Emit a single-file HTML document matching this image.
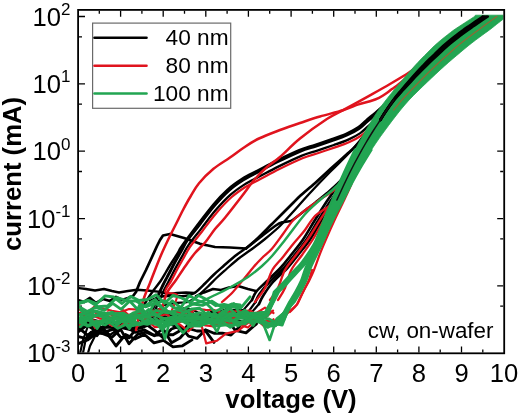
<!DOCTYPE html>
<html><head><meta charset="utf-8"><style>
html,body{margin:0;padding:0;background:#fff;}
svg{display:block;}
text{font-family:"Liberation Sans",Arial,sans-serif;fill:#000;}
</style></head><body>
<svg width="520" height="414" viewBox="0 0 520 414">
<defs><clipPath id="pc"><rect x="79" y="11" width="424.5" height="341.5"/></clipPath></defs>
<rect width="520" height="414" fill="#fff"/>

<path d="M99.3,352.4 v-3 M99.3,10.8 v3 M120.6,352.4 v-6 M120.6,10.8 v6 M141.9,352.4 v-3 M141.9,10.8 v3 M163.2,352.4 v-6 M163.2,10.8 v6 M184.5,352.4 v-3 M184.5,10.8 v3 M205.8,352.4 v-6 M205.8,10.8 v6 M227.1,352.4 v-3 M227.1,10.8 v3 M248.4,352.4 v-6 M248.4,10.8 v6 M269.7,352.4 v-3 M269.7,10.8 v3 M291.1,352.4 v-6 M291.1,10.8 v6 M312.4,352.4 v-3 M312.4,10.8 v3 M333.7,352.4 v-6 M333.7,10.8 v6 M355.0,352.4 v-3 M355.0,10.8 v3 M376.3,352.4 v-6 M376.3,10.8 v6 M397.6,352.4 v-3 M397.6,10.8 v3 M418.9,352.4 v-6 M418.9,10.8 v6 M440.2,352.4 v-3 M440.2,10.8 v3 M461.5,352.4 v-6 M461.5,10.8 v6 M482.8,352.4 v-3 M482.8,10.8 v3 M79.0,306.2 h3 M503.2,306.2 h-3 M79.0,285.9 h6 M503.2,285.9 h-6 M79.0,238.9 h3 M503.2,238.9 h-3 M79.0,218.6 h6 M503.2,218.6 h-6 M79.0,171.5 h3 M503.2,171.5 h-3 M79.0,151.2 h6 M503.2,151.2 h-6 M79.0,104.1 h3 M503.2,104.1 h-3 M79.0,83.9 h6 M503.2,83.9 h-6 M79.0,36.8 h3 M503.2,36.8 h-3 M79.0,16.5 h6 M503.2,16.5 h-6" stroke="#000" stroke-width="1.3" fill="none"/>
<g clip-path="url(#pc)" fill="none" stroke-linejoin="round" stroke-linecap="round">
<path d="M78.0,323.7 L87.5,324.8 L97.0,326.9 L106.5,319.0 L116.0,326.0 L125.5,322.0 L135.0,315.0 L144.5,323.7 L154.0,323.8 L163.5,314.7 L173.0,313.2 L182.5,317.2 L192.0,312.4 L201.5,323.1 L211.0,312.1 L220.5,314.6 L230.0,316.6 L239.5,313.7 L249.0,314.9" stroke="#000" stroke-width="2.86"/>
<path d="M78.0,327.5 L88.5,318.5 L99.0,321.5 L109.5,326.9 L120.0,327.4 L130.5,329.7 L141.0,328.1 L151.5,323.5 L162.0,318.2 L172.5,325.1 L183.0,330.8 L193.5,318.2 L204.0,321.4 L214.5,319.9 L225.0,318.2 L235.5,330.4 L246.0,332.8 L256.5,323.8" stroke="#000" stroke-width="2.86"/>
<path d="M78.0,331.9 L86.5,325.6 L95.0,326.7 L103.5,327.6 L112.0,327.0 L120.5,337.2 L129.0,337.9 L137.5,327.2 L146.0,324.1 L154.5,330.4 L163.0,337.7 L171.5,329.0 L180.0,325.8 L188.5,336.2 L197.0,338.4 L205.5,329.7 L214.0,333.3 L222.5,333.1 L231.0,335.0 L239.5,326.7" stroke="#000" stroke-width="2.86"/>
<path d="M78.0,336.6 L86.5,338.7 L95.0,332.2 L103.5,333.8 L112.0,337.2 L120.5,329.1 L129.0,343.7 L137.5,334.4 L146.0,332.2 L154.5,335.7 L163.0,328.5 L171.5,342.7 L180.0,338.0 L188.5,328.5 L197.0,331.0 L205.5,330.9 L214.0,342.4" stroke="#000" stroke-width="2.86"/>
<path d="M78.0,327.2 L87.5,335.2 L97.0,328.3 L106.5,331.3 L116.0,328.4 L125.5,326.5 L135.0,332.3 L144.5,329.9 L154.0,335.3 L163.5,334.5 L173.0,334.7 L182.5,329.3" stroke="#000" stroke-width="2.86"/>
<path d="M78.0,328.5 L87.5,322.2 L97.0,331.4 L106.5,324.0 L116.0,317.4 L125.5,327.8 L135.0,326.5 L144.5,324.0" stroke="#000" stroke-width="2.86"/>
<path d="M78.0,343.8 L87.5,340.0 L97.0,332.8 L106.5,332.5 L116.0,346.0 L125.5,334.5 L135.0,339.0 L144.5,334.5 L154.0,342.9 L163.5,340.4 L173.0,346.9 L182.5,345.8 L192.0,339.9" stroke="#000" stroke-width="2.86"/>
<path d="M79.0,358.0 L83.0,340.0 L88.0,326.0 L94.0,330.0 L100.0,322.0 L106.0,326.0 L112.0,318.0" stroke="#000" stroke-width="2.20"/>
<path d="M82.0,358.0 L86.0,338.0 L91.0,332.0 L97.0,336.0 L103.0,328.0 L110.0,335.0 L117.0,330.0" stroke="#000" stroke-width="2.20"/>
<path d="M86.0,360.0 L90.0,346.0 L95.0,336.0 L101.0,330.0" stroke="#000" stroke-width="2.20"/>
<path d="M78.0,288.0 L86.0,289.0 L95.0,290.5 L104.0,289.0 L112.0,291.0 L119.0,292.5 L128.0,291.0 L137.0,289.8 L147.0,290.5 L158.0,291.6 L169.0,294.0 L177.0,293.0 L186.0,292.5 L194.5,293.0" stroke="#000" stroke-width="2.42"/>
<path d="M140.0,318.0 C141.0,317.5 144.0,316.3 146.0,315.0 C148.0,313.7 150.0,313.2 152.0,310.0 C154.0,306.8 156.1,300.0 157.9,295.8 C159.7,291.6 161.2,288.7 163.0,285.0 C164.8,281.3 166.9,277.6 168.9,273.8 C170.9,270.0 173.0,265.7 175.0,262.0 C177.0,258.3 178.7,255.5 180.8,251.8 C182.9,248.1 184.3,244.6 187.5,240.0 C190.7,235.4 195.6,229.7 200.0,224.0 C204.4,218.3 209.2,211.6 214.0,206.0 C218.8,200.4 224.2,194.6 229.0,190.3 C233.8,186.0 238.2,183.1 243.0,180.0 C247.8,176.9 252.3,175.0 258.0,172.0 C263.7,169.0 270.0,165.4 277.0,162.0 C284.0,158.6 293.5,154.0 300.0,151.3 C306.5,148.6 310.6,147.8 316.0,146.0 C321.4,144.2 327.4,142.2 332.6,140.4 C337.8,138.6 342.6,137.0 347.0,135.0 C351.4,133.0 355.7,130.8 359.0,128.5 C362.3,126.2 364.2,123.9 367.0,121.5 C369.8,119.1 373.2,116.4 376.0,114.0 C378.8,111.6 381.3,109.3 384.0,107.0 C386.7,104.7 390.7,101.2 392.0,100.0" stroke="#000" stroke-width="2.97"/>
<path d="M146.0,325.0 C147.2,322.8 151.8,313.7 153.0,312.0 C154.2,310.3 152.3,316.5 153.3,314.6 C154.3,312.7 157.4,304.6 159.2,300.4 C161.0,296.2 162.5,293.3 164.3,289.6 C166.1,285.9 168.2,282.2 170.2,278.4 C172.2,274.6 174.3,270.3 176.3,266.6 C178.3,262.9 180.0,260.1 182.1,256.4 C184.2,252.7 185.6,249.2 188.8,244.6 C192.0,240.0 196.9,234.3 201.3,228.6 C205.7,222.9 210.5,216.2 215.3,210.6 C220.1,205.0 225.5,199.2 230.3,194.9 C235.1,190.6 239.5,187.7 244.3,184.6 C249.1,181.5 253.6,179.6 259.3,176.6 C265.0,173.6 271.3,170.0 278.3,166.6 C285.3,163.2 294.8,158.6 301.3,155.9 C307.8,153.2 311.9,152.4 317.3,150.6 C322.7,148.8 328.7,146.8 333.9,145.0 C339.1,143.2 343.9,141.6 348.3,139.6 C352.7,137.6 357.0,135.3 360.3,133.1 C363.6,130.8 365.5,128.5 368.3,126.1 C371.1,123.7 374.5,121.0 377.3,118.6 C380.1,116.2 382.6,113.9 385.3,111.6 C388.0,109.3 392.0,105.8 393.3,104.6" stroke="#000" stroke-width="2.31"/>
<path d="M132.0,322.0 C132.8,321.0 135.5,318.0 137.0,316.0 C138.5,314.0 139.3,312.7 141.0,310.0 C142.7,307.3 145.0,303.2 147.0,300.0 C149.0,296.8 150.7,294.2 153.0,291.0 C155.3,287.8 158.4,284.2 160.6,281.0 C162.8,277.8 164.1,275.2 166.0,272.0 C167.9,268.8 170.0,265.2 172.0,262.0 C174.0,258.8 176.0,255.8 178.0,252.6 C180.0,249.4 178.1,251.0 184.0,243.0 C189.9,235.0 205.8,213.8 213.2,204.8 C220.6,195.8 223.4,193.4 228.2,189.1 C233.0,184.8 237.4,181.9 242.2,178.8 C247.0,175.8 251.5,173.8 257.2,170.8 C262.9,167.8 269.2,164.2 276.2,160.8 C283.2,157.4 292.7,152.8 299.2,150.1 C305.7,147.4 309.8,146.6 315.2,144.8 C320.6,143.0 326.6,141.0 331.8,139.2 C337.0,137.4 341.8,135.8 346.2,133.8 C350.6,131.8 354.9,129.6 358.2,127.3 C361.5,125.0 363.4,122.7 366.2,120.3 C369.0,117.9 372.4,115.2 375.2,112.8 C378.0,110.4 380.5,108.1 383.2,105.8 C385.9,103.5 389.9,100.0 391.2,98.8" stroke="#000" stroke-width="2.42"/>
<path d="M78.0,300.0 L84.0,302.0 L90.0,298.0 L96.0,303.0 L103.0,299.0 L110.0,301.0 L116.0,297.0 L122.0,300.0 L128.0,298.0 L133.0,296.0 L136.0,292.0 L140.0,282.0 L146.0,270.0 L152.0,257.0 L157.0,246.0 L160.0,240.0 L163.0,235.5 L170.0,234.0 L184.0,238.0 L200.0,243.8 L208.0,245.5 L215.0,247.0 L230.0,247.5 L246.0,248.5" stroke="#000" stroke-width="2.75"/>
<path d="M246.0,248.5 C248.0,246.8 253.7,242.0 258.0,238.0 C262.3,234.0 267.4,228.6 271.7,224.3 C276.0,220.0 280.4,215.6 284.0,212.0 C287.6,208.4 290.8,205.3 293.5,202.6 C296.2,199.9 296.4,199.3 300.0,196.0 C303.6,192.7 309.8,187.8 315.2,183.0 C320.6,178.2 327.5,171.7 332.6,167.0 C337.7,162.3 342.1,158.5 346.0,155.0 C349.9,151.5 352.7,149.5 356.0,146.0 C359.3,142.5 363.0,138.0 366.0,134.0 C369.0,130.0 372.7,124.0 374.0,122.0" stroke="#000" stroke-width="2.75"/>
<path d="M150.0,301.0 C151.7,300.3 156.7,297.8 160.0,297.0 C163.3,296.2 165.8,296.2 170.0,296.0 C174.2,295.8 180.9,296.5 185.0,296.0 C189.1,295.5 191.2,295.1 194.5,293.0 C197.8,290.9 201.8,286.6 205.0,283.5 C208.2,280.4 210.9,277.4 214.0,274.5 C217.1,271.6 220.0,269.1 223.5,266.0 C227.0,262.9 231.0,259.2 235.0,256.0 C239.0,252.8 243.1,250.3 247.6,247.0 C252.1,243.7 257.2,239.7 262.0,236.0 C266.8,232.3 273.2,227.3 276.6,225.0 C280.0,222.7 281.6,222.7 282.6,222.2" stroke="#000" stroke-width="2.53"/>
<path d="M282.6,222.2 L291.3,221.0" stroke="#000" stroke-width="2.42"/>
<path d="M291.3,221.0 C293.2,219.5 299.0,215.1 303.0,212.0 C307.0,208.9 311.2,205.8 315.2,202.6 C319.2,199.4 322.9,196.6 327.0,193.0 C331.1,189.4 335.8,185.3 340.0,181.0 C344.2,176.7 348.5,171.8 352.0,167.0 C355.5,162.2 358.3,156.8 361.0,152.0 C363.7,147.2 366.8,140.3 368.0,138.0" stroke="#000" stroke-width="2.42"/>
<path d="M160.0,306.0 C162.5,305.5 170.3,303.7 175.0,303.0 C179.7,302.3 184.2,303.2 188.0,302.0 C191.8,300.8 194.2,298.6 197.5,296.0 C200.8,293.4 204.8,289.6 208.0,286.5 C211.2,283.4 213.9,280.4 217.0,277.5 C220.1,274.6 223.0,272.1 226.5,269.0 C230.0,265.9 234.0,262.2 238.0,259.0 C242.0,255.8 246.1,253.3 250.6,250.0 C255.1,246.7 260.1,243.0 265.0,239.0 C269.9,235.0 275.5,230.3 280.0,226.0 C284.5,221.7 287.0,218.5 292.0,213.0 C297.0,207.5 303.7,199.8 310.0,193.0 C316.3,186.2 323.3,178.8 330.0,172.0 C336.7,165.2 344.7,157.7 350.0,152.0 C355.3,146.3 360.0,140.3 362.0,138.0" stroke="#000" stroke-width="2.31"/>
<path d="M150.0,313.1 L158.5,309.3 L167.0,313.9 L175.5,314.8 L184.0,308.1 L192.5,309.6 L201.0,314.3 L209.5,314.1 L218.0,312.5 L226.5,309.0 L235.0,310.1 L243.5,309.9 L252.0,300.0" stroke="#000" stroke-width="2.20"/>
<path d="M252.0,300.0 C252.7,298.7 253.7,295.0 256.0,292.0 C258.3,289.0 261.9,286.0 266.0,282.0 C270.1,278.0 276.2,272.5 280.4,268.0 C284.6,263.5 287.3,259.7 291.0,255.0 C294.7,250.3 298.7,245.8 302.7,240.0 C306.7,234.2 310.9,226.5 315.0,220.0 C319.1,213.5 323.3,206.5 327.0,201.0 C330.7,195.5 333.5,192.2 337.0,187.0 C340.5,181.8 344.8,175.3 348.0,170.0 C351.2,164.7 353.5,160.0 356.0,155.0 C358.5,150.0 361.8,142.5 363.0,140.0" stroke="#000" stroke-width="2.64"/>
<path d="M150.0,318.8 L158.5,312.8 L167.0,314.0 L175.5,316.5 L184.0,316.3 L192.5,315.5 L201.0,316.2 L209.5,317.9 L218.0,318.3 L226.5,311.9 L235.0,311.2 L243.5,318.3 L255.5,302.0" stroke="#000" stroke-width="2.20"/>
<path d="M255.5,302.0 C256.2,300.7 257.2,297.3 259.5,294.0 C261.8,290.7 265.4,286.3 269.5,282.0 C273.6,277.7 279.7,272.5 283.9,268.0 C288.1,263.5 290.8,259.7 294.5,255.0 C298.2,250.3 302.2,245.8 306.2,240.0 C310.2,234.2 314.4,226.5 318.5,220.0 C322.6,213.5 326.8,206.5 330.5,201.0 C334.2,195.5 337.2,192.2 340.5,187.0 C343.8,181.8 347.3,175.3 350.1,170.0 C352.9,164.7 355.2,160.0 357.4,155.0 C359.5,150.0 362.1,142.5 363.0,140.0" stroke="#000" stroke-width="2.64"/>
<path d="M150.0,321.3 L158.5,316.9 L167.0,317.2 L175.5,319.5 L184.0,317.4 L192.5,314.9 L201.0,316.0 L209.5,316.4 L218.0,318.5 L226.5,315.4 L235.0,319.8 L243.5,321.8 L259.0,304.0" stroke="#000" stroke-width="2.20"/>
<path d="M259.0,304.0 C259.7,302.7 260.7,299.7 263.0,296.0 C265.3,292.3 268.9,286.7 273.0,282.0 C277.1,277.3 283.2,272.5 287.4,268.0 C291.6,263.5 294.3,259.7 298.0,255.0 C301.7,250.3 305.7,245.8 309.7,240.0 C313.7,234.2 317.9,226.5 322.0,220.0 C326.1,213.5 330.3,206.5 334.0,201.0 C337.7,195.5 341.0,192.2 344.0,187.0 C347.0,181.8 349.7,175.3 352.2,170.0 C354.7,164.7 357.0,160.0 358.8,155.0 C360.6,150.0 362.3,142.5 363.0,140.0" stroke="#000" stroke-width="2.64"/>
<path d="M196.0,296.0 L204.0,292.5 L213.0,289.0 L221.0,290.0 L229.0,287.5 L238.0,286.0 L248.0,289.0 L256.0,291.0" stroke="#000" stroke-width="2.42"/>
<path d="M78.0,308.6 L86.5,313.8 L95.0,306.1 L103.5,308.8 L112.0,310.8 L120.5,312.3 L129.0,309.0 L137.5,309.7 L146.0,315.9 L154.5,315.2 L163.0,307.8 L171.5,313.9 L180.0,309.3 L188.5,312.1 L197.0,308.9 L205.5,309.9 L214.0,310.0 L222.5,313.3 L231.0,311.7 L239.5,311.0 L248.0,312.6 L256.5,313.0 L265.0,307.6 L273.5,313.0" stroke="#e0141e" stroke-width="2.20"/>
<path d="M78.0,312.7 L85.5,314.1 L93.0,310.9 L100.5,316.4 L108.0,312.3 L115.5,317.5 L123.0,310.1 L130.5,316.8 L138.0,313.9 L145.5,316.3 L153.0,310.4 L160.5,316.0 L168.0,313.5 L175.5,311.4 L183.0,313.7 L190.5,315.7 L198.0,318.0 L205.5,320.7 L213.0,319.8 L220.5,315.1 L228.0,318.3 L235.5,318.8 L243.0,311.0 L250.5,310.5 L258.0,316.9 L265.5,317.8 L273.0,310.6" stroke="#e0141e" stroke-width="2.20"/>
<path d="M78.0,314.0 L85.5,315.5 L93.0,315.8 L100.5,318.7 L108.0,316.9 L115.5,318.9 L123.0,316.2 L130.5,314.7 L138.0,313.6 L145.5,318.3 L153.0,315.1 L160.5,308.3 L168.0,315.3 L175.5,321.1 L183.0,313.4 L190.5,311.0 L198.0,318.2 L205.5,314.0 L213.0,326.3 L220.5,316.6 L228.0,315.9 L235.5,317.1 L243.0,315.5 L250.5,314.7 L258.0,316.8 L265.5,321.8 L273.0,320.7" stroke="#e0141e" stroke-width="2.20"/>
<path d="M78.0,322.0 L87.5,318.6 L97.0,321.2 L106.5,320.0 L116.0,317.0 L125.5,322.4 L135.0,324.0 L144.5,322.6 L154.0,324.0 L163.5,325.6 L173.0,320.5 L182.5,318.6 L192.0,321.2 L201.5,323.4 L211.0,320.3 L220.5,324.0 L230.0,322.6 L239.5,323.9 L249.0,318.6 L258.5,319.1 L268.0,325.0 L277.5,322.1" stroke="#e0141e" stroke-width="2.20"/>
<path d="M78.0,327.9 L86.5,313.0 L95.0,328.0 L103.5,318.8 L112.0,325.9 L120.5,326.0 L129.0,319.3 L137.5,326.3 L146.0,318.1 L154.5,327.1 L163.0,326.3 L171.5,319.8 L180.0,324.7 L188.5,331.3 L197.0,322.5 L205.5,325.4 L214.0,326.3 L222.5,320.5 L231.0,322.3 L239.5,325.0 L248.0,327.5 L256.5,319.2 L265.0,327.1 L273.5,319.2" stroke="#e0141e" stroke-width="2.20"/>
<path d="M180.0,322.0 L190.0,318.0 L200.9,322.9 L206.2,343.4 L217.0,340.7 L225.9,333.6 L238.0,330.9 L248.3,322.7 L260.5,321.7 L274.7,320.7 L282.8,317.7 L297.0,304.5 L309.0,280.0 L312.0,270.0" stroke="#e0141e" stroke-width="2.20"/>
<path d="M136.0,330.0 C136.7,327.0 138.6,317.6 140.0,312.0 C141.4,306.4 142.8,301.3 144.5,296.5 C146.2,291.7 148.2,287.6 150.0,283.0 C151.8,278.4 153.5,273.8 155.4,269.0 C157.3,264.2 159.4,258.8 161.5,254.0 C163.6,249.2 165.7,244.8 168.0,240.0 C170.3,235.2 173.0,230.0 175.5,225.0 C178.0,220.0 180.5,214.8 183.0,210.0 C185.5,205.2 187.8,200.9 190.5,196.5 C193.2,192.1 195.2,187.9 199.0,183.3 C202.8,178.7 208.3,173.1 213.5,168.8 C218.7,164.5 224.9,161.1 230.0,157.5 C235.1,153.9 239.2,150.7 244.0,147.5 C248.8,144.3 253.0,141.4 259.0,138.5 C265.0,135.6 273.2,132.6 280.0,130.0 C286.8,127.4 293.3,125.2 300.0,123.0 C306.7,120.8 312.8,118.6 320.0,116.5 C327.2,114.4 336.6,112.2 343.0,110.2 C349.4,108.2 354.1,105.9 358.6,104.4 C363.1,102.9 366.6,102.3 370.0,101.2 C373.4,100.1 376.3,99.1 379.0,97.8 C381.7,96.5 383.8,95.0 386.0,93.5 C388.2,92.0 389.8,90.6 392.0,89.0 C394.2,87.4 395.8,86.5 399.0,84.0 C402.2,81.5 407.8,77.0 411.0,74.0 C414.2,71.0 415.9,68.5 418.2,66.0 C420.5,63.5 422.6,61.3 424.9,59.0 C427.2,56.7 429.8,54.2 432.0,52.0 C434.2,49.8 436.0,48.0 438.2,46.0 C440.4,44.0 443.0,41.8 445.2,40.0 C447.4,38.2 449.3,36.7 451.5,35.0 C453.6,33.3 456.0,31.5 458.1,30.0 C460.2,28.5 462.3,27.2 464.0,26.0 C465.8,24.8 467.8,23.5 468.5,23.0" stroke="#e0141e" stroke-width="2.53"/>
<path d="M160.0,318.0 C161.1,314.0 163.7,300.3 166.4,294.0 C169.1,287.7 172.8,284.8 176.0,280.0 C179.2,275.2 182.6,269.9 185.8,265.4 C189.0,260.9 191.7,256.9 195.0,253.0 C198.3,249.1 202.2,246.0 205.5,242.0 C208.8,238.0 211.8,233.0 215.0,229.0 C218.2,225.0 220.3,223.5 224.8,218.0 C229.3,212.5 237.0,202.5 242.0,196.0 C247.0,189.5 250.8,183.8 255.0,179.0 C259.2,174.2 262.8,170.7 267.0,167.0 C271.2,163.3 274.5,161.8 280.0,157.0 C285.5,152.2 292.2,144.8 300.0,138.5 C307.8,132.2 319.7,123.7 326.9,119.0 C334.1,114.3 335.8,114.1 343.0,110.2 C350.2,106.3 362.2,99.8 370.0,95.4 C377.8,91.0 383.5,87.8 390.0,84.0 C396.5,80.2 404.5,75.5 409.0,72.5 C413.5,69.5 414.6,68.2 417.0,66.0 C419.5,63.8 421.3,61.3 423.6,59.0 C425.9,56.7 428.5,54.2 430.7,52.0 C432.9,49.8 434.6,48.0 436.8,46.0 C439.0,44.0 441.6,41.8 443.8,40.0 C446.0,38.2 447.9,36.7 450.1,35.0 C452.2,33.3 454.6,31.5 456.6,30.0 C458.7,28.5 460.9,27.2 462.7,26.0 C464.4,24.8 466.4,23.5 467.2,23.0" stroke="#e0141e" stroke-width="2.53"/>
<path d="M172.0,310.0 C172.8,307.5 178.1,298.0 177.0,295.0 C175.9,292.0 166.3,294.4 165.4,292.0 C164.5,289.6 169.3,284.6 171.3,280.8 C173.3,277.0 175.4,272.7 177.4,269.0 C179.4,265.3 181.1,262.5 183.2,258.8 C185.3,255.1 186.7,251.6 189.9,247.0 C193.1,242.4 198.0,236.7 202.4,231.0 C206.8,225.3 211.6,218.6 216.4,213.0 C221.2,207.4 226.6,201.6 231.4,197.3 C236.2,193.0 240.6,190.1 245.4,187.0 C250.2,183.9 254.7,182.0 260.4,179.0 C266.1,176.0 272.4,172.4 279.4,169.0 C286.4,165.6 295.9,161.0 302.4,158.3 C308.9,155.6 313.0,154.8 318.4,153.0 C323.8,151.2 329.8,149.2 335.0,147.4 C340.2,145.6 345.0,144.0 349.4,142.0 C353.8,140.0 358.1,137.8 361.4,135.5 C364.7,133.2 366.6,130.9 369.4,128.5 C372.2,126.1 375.6,123.4 378.4,121.0 C381.2,118.6 383.7,116.3 386.4,114.0 C389.1,111.7 393.1,108.2 394.4,107.0" stroke="#e0141e" stroke-width="2.20"/>
<path d="M222.0,302.0 C223.7,300.5 228.5,296.7 232.0,293.0 C235.5,289.3 239.4,284.3 243.0,280.0 C246.6,275.7 250.4,270.7 253.6,267.0 C256.8,263.3 259.0,261.0 262.0,258.0 C265.0,255.0 268.2,253.0 271.7,249.0 C275.2,245.0 279.4,238.8 283.0,234.0 C286.6,229.2 289.3,224.3 293.5,220.0 C297.7,215.7 303.3,211.6 308.0,208.0 C312.7,204.4 316.4,202.0 321.7,198.3 C327.0,194.6 335.3,190.4 340.0,186.0 C344.7,181.6 348.3,174.3 350.0,172.0" stroke="#e0141e" stroke-width="2.31"/>
<path d="M255.0,302.0 C256.7,299.7 262.1,293.3 265.0,288.0 C267.9,282.7 269.3,275.2 272.3,270.0 C275.3,264.8 279.4,261.5 283.0,257.0 C286.6,252.5 290.3,247.5 294.0,243.0 C297.7,238.5 301.5,234.6 305.0,230.0 C308.5,225.4 311.4,219.5 315.2,215.7 C319.0,211.9 323.9,209.9 328.0,207.0 C332.1,204.1 336.7,201.7 340.0,198.0 C343.3,194.3 346.7,187.2 348.0,185.0" stroke="#e0141e" stroke-width="2.31"/>
<path d="M270.0,300.0 C271.3,298.0 275.5,293.0 278.0,288.0 C280.5,283.0 282.0,275.5 285.0,270.0 C288.0,264.5 292.3,260.0 296.0,255.0 C299.7,250.0 303.3,245.8 307.3,240.0 C311.3,234.2 315.7,226.7 320.0,220.0 C324.3,213.3 329.3,206.3 333.0,200.0 C336.7,193.7 340.5,185.0 342.0,182.0" stroke="#e0141e" stroke-width="2.31"/>
<path d="M278.0,300.0 C279.2,298.0 282.8,293.0 285.0,288.0 C287.2,283.0 288.5,275.5 291.3,270.0 C294.1,264.5 298.5,260.0 302.0,255.0 C305.5,250.0 308.8,245.8 312.5,240.0 C316.2,234.2 319.9,226.7 324.0,220.0 C328.1,213.3 333.3,206.3 337.0,200.0 C340.7,193.7 344.5,185.0 346.0,182.0" stroke="#e0141e" stroke-width="2.31"/>
<path d="M357.0,170.0 C356.0,172.5 353.1,180.0 351.0,185.0 C348.9,190.0 346.9,194.2 344.2,200.0 C341.5,205.8 337.7,213.3 334.6,220.0 C331.5,226.7 328.2,234.2 325.7,240.0 C323.2,245.8 321.4,250.0 319.5,255.0 C317.6,260.0 315.7,265.8 314.0,270.0 C312.3,274.2 311.3,276.3 309.5,280.0 C307.7,283.7 305.1,287.9 303.0,292.0 C300.9,296.1 299.2,301.2 297.0,304.5 C294.8,307.8 291.2,310.8 290.0,312.0" stroke="#e0141e" stroke-width="2.20"/>
<path d="M79.6,302.5 L88.1,300.4 L96.6,303.7 L105.1,295.9 L113.6,297.0 L122.1,303.5 L130.6,296.4 L139.1,300.5 L147.6,299.5 L156.1,294.7 L164.6,303.3 L173.1,295.3 L181.6,298.0 L190.1,302.6 L198.6,295.4 L207.1,299.8 L215.6,305.7 L224.1,304.5 L232.6,306.3 L241.1,306.8" stroke="#22a552" stroke-width="2.86"/>
<path d="M79.0,303.6 L88.5,300.7 L98.0,306.7 L107.5,306.0 L117.0,297.7 L126.5,300.7 L136.0,301.0 L145.5,306.9 L155.0,303.4 L164.5,300.9 L174.0,307.7 L183.5,309.0 L193.0,304.0 L202.5,305.4 L212.0,301.1 L221.5,307.1 L231.0,306.7 L240.5,308.4 L250.0,296.8" stroke="#22a552" stroke-width="2.86"/>
<path d="M78.7,306.6 L87.2,311.5 L95.7,307.4 L104.2,310.3 L112.7,303.4 L121.2,309.3 L129.7,300.9 L138.2,309.9 L146.7,304.8 L155.2,299.5 L163.7,309.9 L172.2,300.8 L180.7,307.7 L189.2,295.4 L197.7,300.6 L206.2,303.3 L214.7,311.7 L223.2,307.5 L231.7,304.0 L240.2,304.8" stroke="#22a552" stroke-width="2.86"/>
<path d="M79.7,314.3 L87.2,312.9 L94.7,315.4 L102.2,314.8 L109.7,319.3 L117.2,314.4 L124.7,314.9 L132.2,321.4 L139.7,304.9 L147.2,316.0 L154.7,302.9 L162.2,307.9 L169.7,312.4 L177.2,310.0 L184.7,312.4 L192.2,308.9 L199.7,308.3 L207.2,315.0 L214.7,315.6 L222.2,315.2 L229.7,308.5 L237.2,315.6 L244.7,310.3 L252.2,315.4 L259.7,315.4 L267.2,315.9 L274.2,292.0 L274.2,292.0 C275.5,290.7 279.2,287.2 282.2,284.0 C285.2,280.8 288.9,276.7 292.2,273.0 C295.5,269.3 298.6,266.7 302.2,262.0 C305.8,257.3 310.7,250.3 313.7,245.0 C316.7,239.7 318.2,235.0 320.2,230.0 C322.3,225.0 324.1,220.0 326.1,215.0 C328.2,210.0 330.4,205.0 332.5,200.0 C334.6,195.0 336.7,190.0 338.8,185.0 C340.9,180.0 342.7,175.8 345.4,170.0 C348.1,164.2 353.4,153.3 355.0,150.0" stroke="#22a552" stroke-width="2.86"/>
<path d="M80.8,310.1 L89.3,317.0 L97.8,314.6 L106.3,314.8 L114.8,313.7 L123.3,313.2 L131.8,317.5 L140.3,316.1 L148.8,309.4 L157.3,315.2 L165.8,310.8 L174.3,313.0 L182.8,315.6 L191.3,314.7 L199.8,312.8 L208.3,315.8 L216.8,316.1 L225.3,310.3 L233.8,303.6 L242.3,318.2 L250.8,316.8 L259.3,314.8 L267.8,315.0 L275.3,292.0 L275.3,292.0 C276.6,290.7 280.3,287.2 283.3,284.0 C286.3,280.8 289.9,276.7 293.3,273.0 C296.6,269.3 299.7,266.7 303.3,262.0 C306.8,257.3 311.5,250.3 314.5,245.0 C317.5,239.7 319.0,235.0 321.1,230.0 C323.2,225.0 325.0,220.0 327.1,215.0 C329.2,210.0 331.5,205.0 333.7,200.0 C335.8,195.0 337.9,190.0 340.1,185.0 C342.3,180.0 344.1,175.8 346.9,170.0 C349.7,164.2 355.1,153.3 356.8,150.0" stroke="#22a552" stroke-width="2.86"/>
<path d="M78.4,317.9 L86.9,316.9 L95.4,311.1 L103.9,314.5 L112.4,312.2 L120.9,317.9 L129.4,328.6 L137.9,315.0 L146.4,315.0 L154.9,315.1 L163.4,318.4 L171.9,318.0 L180.4,317.0 L188.9,318.9 L197.4,318.8 L205.9,317.2 L214.4,313.4 L222.9,317.9 L231.4,316.3 L239.9,312.8 L248.4,313.4 L256.9,313.1 L265.4,312.1 L276.3,292.0 L276.3,292.0 C277.7,290.7 281.3,287.2 284.3,284.0 C287.3,280.8 291.0,276.7 294.3,273.0 C297.7,269.3 300.8,266.7 304.3,262.0 C307.8,257.3 312.4,250.3 315.4,245.0 C318.3,239.7 319.8,235.0 322.0,230.0 C324.1,225.0 326.0,220.0 328.1,215.0 C330.3,210.0 332.6,205.0 334.8,200.0 C337.1,195.0 339.2,190.0 341.5,185.0 C343.7,180.0 345.6,175.8 348.4,170.0 C351.3,164.2 356.9,153.3 358.6,150.0" stroke="#22a552" stroke-width="2.86"/>
<path d="M80.7,315.8 L88.2,311.1 L95.7,311.1 L103.2,312.8 L110.7,313.9 L118.2,314.8 L125.7,317.9 L133.2,312.9 L140.7,311.2 L148.2,317.0 L155.7,310.3 L163.2,312.0 L170.7,313.2 L178.2,317.3 L185.7,311.0 L193.2,315.2 L200.7,317.1 L208.2,312.1 L215.7,317.6 L223.2,314.5 L230.7,313.6 L238.2,317.1 L245.7,313.9 L253.2,325.4 L260.7,312.6 L268.2,312.8 L277.4,292.0 L277.4,292.0 C278.7,290.7 282.4,287.2 285.4,284.0 C288.4,280.8 292.1,276.7 295.4,273.0 C298.7,269.3 301.9,266.7 305.4,262.0 C308.9,257.3 313.3,250.3 316.2,245.0 C319.1,239.7 320.7,235.0 322.8,230.0 C325.0,225.0 326.9,220.0 329.1,215.0 C331.3,210.0 333.7,205.0 336.0,200.0 C338.3,195.0 340.5,190.0 342.8,185.0 C345.1,180.0 347.0,175.8 349.9,170.0 C352.9,164.2 358.6,153.3 360.4,150.0" stroke="#22a552" stroke-width="2.86"/>
<path d="M80.1,319.7 L88.6,314.8 L97.1,328.6 L105.6,315.4 L114.1,322.7 L122.6,321.7 L131.1,315.0 L139.6,317.7 L148.1,317.1 L156.6,322.2 L165.1,321.6 L173.6,320.1 L182.1,320.2 L190.6,314.7 L199.1,319.4 L207.6,320.5 L216.1,316.0 L224.6,318.8 L233.1,315.4 L241.6,317.2 L250.1,314.2 L258.6,319.0 L267.1,314.4 L278.5,292.0 L278.5,292.0 C279.8,290.7 283.5,287.2 286.5,284.0 C289.5,280.8 293.1,276.7 296.5,273.0 C299.8,269.3 303.0,266.7 306.5,262.0 C309.9,257.3 314.2,250.3 317.0,245.0 C319.9,239.7 321.5,235.0 323.7,230.0 C325.9,225.0 327.9,220.0 330.1,215.0 C332.4,210.0 334.8,205.0 337.2,200.0 C339.5,195.0 341.8,190.0 344.1,185.0 C346.5,180.0 348.4,175.8 351.5,170.0 C354.5,164.2 360.4,153.3 362.2,150.0" stroke="#22a552" stroke-width="2.86"/>
<path d="M78.6,323.1 L88.1,318.1 L97.6,315.4 L107.1,317.9 L116.6,318.0 L126.1,322.9 L135.6,316.4 L145.1,321.3 L154.6,323.3 L164.1,318.7 L173.6,321.5 L183.1,332.9 L192.6,322.4 L202.1,324.2 L211.6,322.4 L221.1,320.1 L230.6,319.5 L240.1,322.4 L249.6,318.7 L259.1,317.8 L268.6,318.9 L278.1,323.7 L289.6,302.0 L289.6,302.0 C290.6,300.3 293.6,295.7 295.6,292.0 C297.6,288.3 299.7,284.3 301.6,280.0 C303.4,275.7 303.9,271.8 306.6,266.0 C309.3,260.2 314.9,251.0 317.9,245.0 C320.9,239.0 322.3,235.0 324.5,230.0 C326.7,225.0 328.8,220.0 331.1,215.0 C333.4,210.0 335.9,205.0 338.3,200.0 C340.7,195.0 343.0,190.0 345.5,185.0 C347.9,180.0 349.9,175.8 353.0,170.0 C356.0,164.2 362.1,153.3 363.9,150.0" stroke="#22a552" stroke-width="2.86"/>
<path d="M79.7,321.4 L87.2,318.3 L94.7,325.7 L102.2,322.7 L109.7,318.2 L117.2,325.0 L124.7,318.8 L132.2,324.1 L139.7,322.8 L147.2,324.3 L154.7,322.0 L162.2,325.7 L169.7,318.2 L177.2,321.9 L184.7,318.6 L192.2,317.4 L199.7,317.1 L207.2,318.5 L214.7,320.5 L222.2,319.3 L229.7,321.4 L237.2,318.8 L244.7,317.3 L252.2,324.0 L259.7,318.3 L267.2,323.0 L274.7,323.5 L282.2,325.0 L290.7,302.0 L290.7,302.0 C291.7,300.3 294.7,295.7 296.7,292.0 C298.7,288.3 300.9,284.3 302.7,280.0 C304.6,275.7 305.1,271.8 307.7,266.0 C310.4,260.2 315.8,251.0 318.7,245.0 C321.7,239.0 323.2,235.0 325.4,230.0 C327.6,225.0 329.8,220.0 332.1,215.0 C334.5,210.0 337.1,205.0 339.5,200.0 C341.9,195.0 344.3,190.0 346.8,185.0 C349.3,180.0 351.3,175.8 354.5,170.0 C357.6,164.2 363.9,153.3 365.7,150.0" stroke="#22a552" stroke-width="2.86"/>
<path d="M79.8,322.4 L88.3,326.1 L96.8,323.0 L105.3,324.9 L113.8,318.9 L122.3,320.9 L130.8,318.4 L139.3,325.0 L147.8,322.5 L156.3,321.3 L164.8,326.4 L173.3,323.8 L181.8,318.0 L190.3,326.8 L198.8,322.9 L207.3,321.8 L215.8,326.0 L224.3,325.0 L232.8,324.9 L241.3,322.3 L249.8,321.5 L258.3,321.8 L266.8,325.2 L275.3,325.5 L283.8,320.2 L291.9,302.0 L291.9,302.0 C292.9,300.3 295.9,295.7 297.9,292.0 C299.9,288.3 302.1,284.3 303.9,280.0 C305.7,275.7 306.3,271.8 308.9,266.0 C311.5,260.2 316.7,251.0 319.6,245.0 C322.5,239.0 324.0,235.0 326.2,230.0 C328.5,225.0 330.7,220.0 333.1,215.0 C335.5,210.0 338.2,205.0 340.7,200.0 C343.2,195.0 345.6,190.0 348.1,185.0 C350.7,180.0 352.8,175.8 356.0,170.0 C359.2,164.2 365.6,153.3 367.5,150.0" stroke="#22a552" stroke-width="2.86"/>
<path d="M80.2,318.0 L87.7,325.8 L95.2,321.5 L102.7,321.6 L110.2,318.6 L117.7,323.9 L125.2,317.8 L132.7,323.4 L140.2,323.5 L147.7,321.7 L155.2,322.2 L162.7,330.4 L170.2,317.4 L177.7,317.6 L185.2,322.9 L192.7,325.9 L200.2,326.1 L207.7,322.4 L215.2,322.0 L222.7,311.1 L230.2,319.0 L237.7,326.0 L245.2,321.3 L252.7,321.0 L260.2,320.6 L267.7,326.1 L275.2,325.9 L282.7,318.6 L293.0,302.0 L293.0,302.0 C294.0,300.3 297.0,295.7 299.0,292.0 C301.0,288.3 303.2,284.3 305.0,280.0 C306.9,275.7 307.5,271.8 310.0,266.0 C312.6,260.2 317.6,251.0 320.4,245.0 C323.3,239.0 324.8,235.0 327.1,230.0 C329.4,225.0 331.7,220.0 334.1,215.0 C336.6,210.0 339.3,205.0 341.8,200.0 C344.4,195.0 346.9,190.0 349.5,185.0 C352.1,180.0 354.2,175.8 357.5,170.0 C360.8,164.2 367.3,153.3 369.3,150.0" stroke="#22a552" stroke-width="2.86"/>
<path d="M80.3,326.7 L87.8,319.8 L95.3,322.9 L102.8,321.4 L110.3,322.9 L117.8,328.3 L125.3,324.6 L132.8,325.7 L140.3,323.8 L147.8,319.8 L155.3,324.3 L162.8,321.5 L170.3,323.8 L177.8,320.8 L185.3,321.5 L192.8,321.2 L200.3,322.0 L207.8,320.7 L215.3,323.1 L222.8,322.1 L230.3,327.3 L237.8,323.5 L245.3,323.8 L252.8,316.7 L260.3,320.2 L267.8,327.4 L275.3,322.3 L282.8,313.9 L294.2,302.0 L294.2,302.0 C295.2,300.3 298.2,295.7 300.2,292.0 C302.2,288.3 304.4,284.3 306.2,280.0 C308.0,275.7 308.7,271.8 311.2,266.0 C313.7,260.2 318.5,251.0 321.3,245.0 C324.1,239.0 325.6,235.0 327.9,230.0 C330.3,225.0 332.6,220.0 335.1,215.0 C337.6,210.0 340.4,205.0 343.0,200.0 C345.6,195.0 348.1,190.0 350.8,185.0 C353.5,180.0 355.6,175.8 359.0,170.0 C362.4,164.2 369.1,153.3 371.1,150.0" stroke="#22a552" stroke-width="2.86"/>
<path d="M250.0,314.0 L260.5,316.7 L269.6,340.0 L276.7,318.7 L285.0,312.0" stroke="#22a552" stroke-width="2.64"/>
<path d="M155.0,318.0 L160.0,322.0 L165.0,339.0 L170.0,320.0 L176.0,316.0" stroke="#22a552" stroke-width="2.64"/>
<path d="M205.0,318.0 L211.0,322.0 L217.0,331.8 L223.0,318.0 L230.0,314.0" stroke="#22a552" stroke-width="2.64"/>
<path d="M190.0,304.0 C191.7,303.7 196.2,303.3 200.0,302.0 C203.8,300.7 208.2,298.3 213.0,296.0 C217.8,293.7 223.2,291.2 229.0,288.0 C234.8,284.8 242.5,280.7 248.0,277.0 C253.5,273.3 258.0,269.5 262.0,266.0 C266.0,262.5 268.2,260.3 272.0,256.0 C275.8,251.7 279.6,246.8 285.0,240.0 C290.4,233.2 298.5,221.7 304.3,215.0 C310.1,208.3 315.3,204.2 320.0,200.0 C324.7,195.8 328.9,193.3 332.6,190.0 C336.3,186.7 339.1,184.0 342.0,180.0 C344.9,176.0 348.7,168.3 350.0,166.0" stroke="#22a552" stroke-width="2.42"/>
<path d="M326.1,215.0 C327.2,212.5 330.4,205.0 332.5,200.0 C334.6,195.0 336.7,190.0 338.8,185.0 C340.9,180.0 343.2,174.8 345.4,170.0 C347.6,165.2 349.9,160.5 352.1,156.0 C354.3,151.5 356.5,147.2 358.7,143.0 C360.9,138.8 363.2,134.8 365.4,131.0 C367.6,127.2 369.8,123.5 372.0,120.0 C374.2,116.5 376.2,113.3 378.5,110.0 C380.8,106.7 383.6,103.2 386.0,100.0 C388.4,96.8 390.7,94.0 393.2,91.0 C395.7,88.0 398.4,84.8 400.8,82.0 C403.2,79.2 405.3,76.7 407.6,74.0 C409.9,71.3 412.4,68.5 414.6,66.0 C416.9,63.5 418.9,61.3 421.1,59.0 C423.3,56.7 425.9,54.2 428.1,52.0 C430.3,49.8 431.9,48.0 434.1,46.0 C436.3,44.0 438.8,41.8 441.0,40.0 C443.2,38.2 445.1,36.7 447.3,35.0 C449.4,33.3 451.7,31.5 453.8,30.0 C455.9,28.5 458.1,27.2 459.9,26.0 C461.7,24.8 462.9,24.0 464.5,23.0 C466.0,22.0 467.8,20.8 469.1,20.0 C470.4,19.2 471.3,18.6 472.2,18.0 C473.1,17.4 474.1,16.8 474.5,16.5 L475.4,15.2 L512,15.2 L512,16.5 L507.0,16.5 C506.6,16.8 505.6,17.4 504.8,18.0 C504.0,18.6 503.2,19.2 502.1,20.0 C501.0,20.8 499.6,22.0 498.3,23.0 C497.0,24.0 495.9,24.8 494.5,26.0 C493.0,27.2 491.4,28.5 489.4,30.0 C487.4,31.5 484.7,33.3 482.5,35.0 C480.2,36.7 478.1,38.2 475.7,40.0 C473.3,41.8 470.5,44.0 468.0,46.0 C465.5,48.0 463.4,49.8 460.8,52.0 C458.3,54.2 455.2,56.7 452.5,59.0 C449.8,61.3 447.3,63.5 444.5,66.0 C441.7,68.5 438.6,71.3 435.8,74.0 C432.9,76.7 430.3,79.2 427.3,82.0 C424.4,84.8 421.0,88.0 418.0,91.0 C415.0,94.0 412.0,96.8 409.1,100.0 C406.2,103.2 403.2,106.7 400.5,110.0 C397.8,113.3 395.4,116.5 392.7,120.0 C390.0,123.5 387.3,127.2 384.5,131.0 C381.7,134.8 378.8,138.8 376.0,143.0 C373.1,147.2 370.3,151.5 367.5,156.0 C364.7,160.5 361.8,165.2 359.0,170.0 C356.2,174.8 353.5,180.0 350.8,185.0 C348.1,190.0 345.6,195.0 343.0,200.0 C340.4,205.0 336.4,212.5 335.1,215.0 Z" fill="#22a552" stroke="#22a552" stroke-width="0.8" clip-path="url(#pc)"/>
<path d="M482.9,16.5 C482.6,16.8 481.6,17.4 480.7,18.0 C479.8,18.6 478.9,19.2 477.7,20.0 C476.5,20.8 474.8,22.0 473.3,23.0 C471.8,24.0 470.6,24.8 469.0,26.0 C467.3,27.2 465.2,28.5 463.2,30.0 C461.1,31.5 458.7,33.3 456.6,35.0 C454.4,36.7 452.5,38.2 450.2,40.0 C448.0,41.8 445.4,44.0 443.1,46.0 C440.9,48.0 439.1,49.8 436.9,52.0 C434.6,54.2 431.9,56.7 429.6,59.0 C427.2,61.3 425.1,63.5 422.7,66.0 C420.3,68.5 417.6,71.3 415.2,74.0 C412.8,76.7 410.5,79.2 408.1,82.0 C405.6,84.8 403.0,88.0 400.5,91.0 C398.0,94.0 395.6,96.8 393.3,100.0 C390.9,103.2 388.5,106.7 386.4,110.0 C384.2,113.3 381.3,118.3 380.3,120.0" fill="none" stroke="#000" stroke-width="2.6" clip-path="url(#pc)"/>
<path d="M484.6,16.5 C484.2,16.8 483.2,17.4 482.3,18.0 C481.4,18.6 480.5,19.2 479.3,20.0 C478.1,20.8 476.4,22.0 474.9,23.0 C473.5,24.0 472.3,24.8 470.6,26.0 C468.9,27.2 466.9,28.5 464.8,30.0 C462.7,31.5 460.3,33.3 458.1,35.0 C455.9,36.7 454.0,38.2 451.7,40.0 C449.4,41.8 446.8,44.0 444.5,46.0 C442.3,48.0 440.5,49.8 438.2,52.0 C435.9,54.2 433.2,56.7 430.8,59.0 C428.4,61.3 426.2,63.5 423.8,66.0 C421.3,68.5 418.6,71.3 416.1,74.0 C413.7,76.7 411.4,79.2 408.9,82.0 C406.4,84.8 403.6,88.0 401.1,91.0 C398.5,94.0 396.0,96.8 393.6,100.0 C391.2,103.2 388.8,106.7 386.5,110.0 C384.3,113.3 381.3,118.3 380.3,120.0" fill="none" stroke="#000" stroke-width="2.6" clip-path="url(#pc)"/>
<path d="M486.2,16.5 C485.8,16.8 484.8,17.4 483.9,18.0 C483.1,18.6 482.2,19.2 481.0,20.0 C479.7,20.8 478.0,22.0 476.6,23.0 C475.1,24.0 473.9,24.8 472.2,26.0 C470.5,27.2 468.5,28.5 466.4,30.0 C464.4,31.5 461.9,33.3 459.7,35.0 C457.5,36.7 455.5,38.2 453.2,40.0 C450.9,41.8 448.2,44.0 445.9,46.0 C443.7,48.0 441.8,49.8 439.5,52.0 C437.2,54.2 434.4,56.7 432.0,59.0 C429.6,61.3 427.4,63.5 424.9,66.0 C422.4,68.5 419.6,71.3 417.1,74.0 C414.6,76.7 412.3,79.2 409.7,82.0 C407.1,84.8 404.3,88.0 401.6,91.0 C399.0,94.0 396.5,96.8 394.0,100.0 C391.5,103.2 389.0,106.7 386.7,110.0 C384.4,113.3 381.3,118.3 380.3,120.0" fill="none" stroke="#000" stroke-width="2.6" clip-path="url(#pc)"/>
<path d="M487.8,16.5 C487.4,16.8 486.4,17.4 485.5,18.0 C484.7,18.6 483.8,19.2 482.6,20.0 C481.3,20.8 479.6,22.0 478.2,23.0 C476.7,24.0 475.5,24.8 473.8,26.0 C472.1,27.2 470.2,28.5 468.1,30.0 C466.0,31.5 463.5,33.3 461.2,35.0 C459.0,36.7 457.0,38.2 454.7,40.0 C452.4,41.8 449.6,44.0 447.3,46.0 C445.0,48.0 443.1,49.8 440.8,52.0 C438.4,54.2 435.7,56.7 433.2,59.0 C430.7,61.3 428.5,63.5 426.0,66.0 C423.4,68.5 420.6,71.3 418.0,74.0 C415.5,76.7 413.1,79.2 410.5,82.0 C407.8,84.8 404.9,88.0 402.2,91.0 C399.5,94.0 396.9,96.8 394.3,100.0 C391.8,103.2 389.2,106.7 386.9,110.0 C384.5,113.3 381.4,118.3 380.3,120.0" fill="none" stroke="#000" stroke-width="2.6" clip-path="url(#pc)"/>
<path d="M393.8,100.0 C392.6,101.7 388.9,106.7 386.6,110.0 C384.4,113.3 382.5,116.5 380.3,120.0 C378.0,123.5 375.5,127.2 373.1,131.0 C370.7,134.8 368.2,138.8 365.8,143.0 C363.3,147.2 360.9,151.5 358.5,156.0 C356.0,160.5 353.5,165.2 351.1,170.0 C348.7,174.8 346.2,180.0 343.8,185.0 C341.5,190.0 338.1,197.5 336.9,200.0" fill="none" stroke="#111" stroke-width="1.5" clip-path="url(#pc)"/>
<path d="M496.9,16.5 C496.6,16.8 495.5,17.4 494.7,18.0 C493.9,18.6 493.0,19.2 491.9,20.0 C490.7,20.8 489.2,22.0 487.8,23.0 C486.4,24.0 485.3,24.8 483.7,26.0 C482.2,27.2 480.4,28.5 478.4,30.0 C476.3,31.5 473.8,33.3 471.6,35.0 C469.3,36.7 467.3,38.2 465.0,40.0 C462.6,41.8 459.9,44.0 457.5,46.0 C455.1,48.0 453.2,49.8 450.7,52.0 C448.2,54.2 445.3,56.7 442.8,59.0 C440.2,61.3 437.9,63.5 435.3,66.0 C432.6,68.5 429.7,71.3 427.0,74.0 C424.3,76.7 421.9,79.2 419.1,82.0 C416.3,84.8 413.2,88.0 410.3,91.0 C407.5,94.0 404.7,96.8 401.9,100.0 C399.2,103.2 395.1,108.3 393.7,110.0" fill="none" stroke="#8d6a35" stroke-width="1.3" clip-path="url(#pc)"/>
</g>
<rect x="78.1" y="9.9" width="426.1" height="343.4" fill="none" stroke="#000" stroke-width="1.8"/>
<text x="78.0" y="381.5" font-size="25.6" text-anchor="middle">0</text>
<text x="120.6" y="381.5" font-size="25.6" text-anchor="middle">1</text>
<text x="163.2" y="381.5" font-size="25.6" text-anchor="middle">2</text>
<text x="205.8" y="381.5" font-size="25.6" text-anchor="middle">3</text>
<text x="248.4" y="381.5" font-size="25.6" text-anchor="middle">4</text>
<text x="291.1" y="381.5" font-size="25.6" text-anchor="middle">5</text>
<text x="333.7" y="381.5" font-size="25.6" text-anchor="middle">6</text>
<text x="376.3" y="381.5" font-size="25.6" text-anchor="middle">7</text>
<text x="418.9" y="381.5" font-size="25.6" text-anchor="middle">8</text>
<text x="461.5" y="381.5" font-size="25.6" text-anchor="middle">9</text>
<text x="504.1" y="381.5" font-size="25.6" text-anchor="middle">10</text>
<text x="70.5" y="362.3" font-size="25.6" text-anchor="end">10<tspan font-size="17" dy="-10.5">-3</tspan></text>
<text x="70.5" y="294.9" font-size="25.6" text-anchor="end">10<tspan font-size="17" dy="-10.5">-2</tspan></text>
<text x="70.5" y="227.6" font-size="25.6" text-anchor="end">10<tspan font-size="17" dy="-10.5">-1</tspan></text>
<text x="70.5" y="160.2" font-size="25.6" text-anchor="end">10<tspan font-size="17" dy="-10.5">0</tspan></text>
<text x="70.5" y="92.9" font-size="25.6" text-anchor="end">10<tspan font-size="17" dy="-10.5">1</tspan></text>
<text x="70.5" y="25.5" font-size="25.6" text-anchor="end">10<tspan font-size="17" dy="-10.5">2</tspan></text>
<text x="291" y="408" font-size="25.7" font-weight="bold" text-anchor="middle">voltage (V)</text>
<text transform="translate(20.8,174) rotate(-90)" x="0" y="0" font-size="25.7" font-weight="bold" text-anchor="middle">current (mA)</text>
<rect x="92.6" y="23.1" width="138.1" height="85.2" fill="#fff" stroke="#6a6a6a" stroke-width="1.2"/>
<path d="M94.5,37.8 H146.5" stroke="#000" stroke-width="2.6" stroke-linecap="round"/>
<text x="228.6" y="45.3" font-size="22.7" text-anchor="end">40 nm</text>
<path d="M94.5,65.7 H146.5" stroke="#e0141e" stroke-width="2.6" stroke-linecap="round"/>
<text x="228.6" y="73.2" font-size="22.7" text-anchor="end">80 nm</text>
<path d="M94.5,93.5 H146.5" stroke="#22a552" stroke-width="2.6" stroke-linecap="round"/>
<text x="228.6" y="101.0" font-size="22.7" text-anchor="end">100 nm</text>
<text x="493.5" y="337.6" font-size="22.4" text-anchor="end">cw, on-wafer</text>
</svg></body></html>
